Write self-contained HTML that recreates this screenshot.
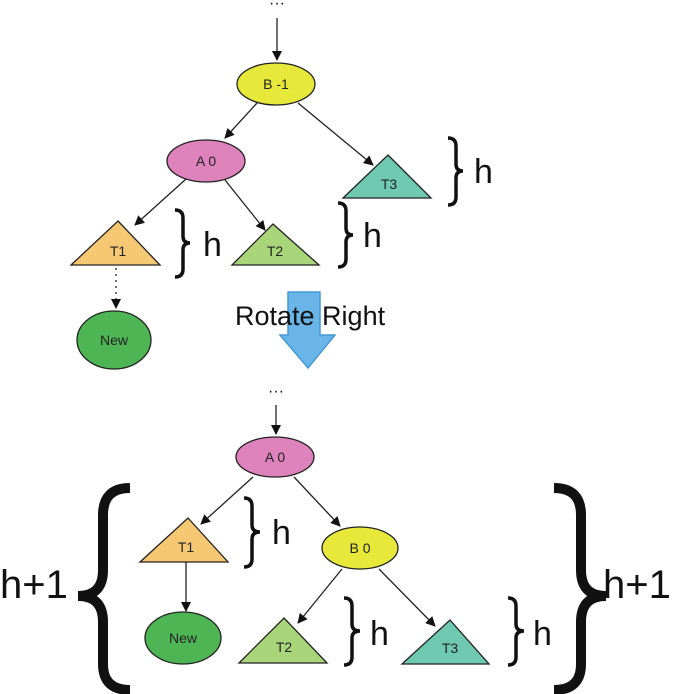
<!DOCTYPE html>
<html><head><meta charset="utf-8"><style>body{margin:0;background:#fff}svg{display:block}</style></head>
<body>
<svg width="685" height="694" viewBox="0 0 685 694" xmlns="http://www.w3.org/2000/svg" font-family="Liberation Sans, sans-serif">
<defs>
<marker id="ah" markerWidth="10" markerHeight="10" refX="9" refY="5" orient="auto" markerUnits="userSpaceOnUse">
<path d="M0,0 L10,5 L0,10 z" fill="#111"/></marker>
</defs>
<g stroke="#222" stroke-width="1.3" fill="none">
<!-- top tree -->
<line x1="277" y1="18" x2="277" y2="60" marker-end="url(#ah)"/>
<line x1="257" y1="103" x2="225" y2="138" marker-end="url(#ah)"/>
<line x1="298" y1="103" x2="373" y2="165" marker-end="url(#ah)"/>
<line x1="186" y1="179" x2="135" y2="225" marker-end="url(#ah)"/>
<line x1="225" y1="180" x2="265" y2="230" marker-end="url(#ah)"/>
<line x1="116" y1="268" x2="116" y2="308" stroke-dasharray="2,4" marker-end="url(#ah)"/>
<!-- bottom tree -->
<line x1="276" y1="405" x2="276" y2="434" marker-end="url(#ah)"/>
<line x1="253" y1="477" x2="201" y2="524" marker-end="url(#ah)"/>
<line x1="294" y1="477" x2="340" y2="526" marker-end="url(#ah)"/>
<line x1="186" y1="562" x2="186" y2="611" marker-end="url(#ah)"/>
<line x1="342" y1="569" x2="298" y2="623" marker-end="url(#ah)"/>
<line x1="379" y1="569" x2="435" y2="626" marker-end="url(#ah)"/>
</g>
<g fill="#111" font-size="16" text-anchor="middle">
<text x="277" y="8">···</text>
<text x="276" y="396">···</text>
</g>
<g stroke="#222" stroke-width="1.3">
<ellipse cx="276" cy="84" rx="39" ry="21" fill="#e6e83a"/>
<ellipse cx="206" cy="161" rx="39" ry="21" fill="#de82bb"/>
<polygon points="388,155 431,198 343,198" fill="#6ec9b0"/>
<polygon points="118,221 160,265 71,265" fill="#f7c873"/>
<polygon points="273,224 319,265 232,265" fill="#a9d57a"/>
<ellipse cx="114" cy="340" rx="37" ry="29" fill="#4db554"/>
<ellipse cx="275" cy="457" rx="39" ry="20" fill="#de82bb"/>
<polygon points="188,518 228,562 140,562" fill="#f7c873"/>
<ellipse cx="360" cy="548" rx="38" ry="21" fill="#e6e83a"/>
<ellipse cx="183" cy="638" rx="38" ry="26" fill="#4db554"/>
<polygon points="284,618 327,663 239,663" fill="#a9d57a"/>
<polygon points="450,620 489,664 402,664" fill="#6ec9b0"/>
</g>
<g fill="#222" font-size="14" text-anchor="middle">
<text x="276" y="89">B -1</text>
<text x="206" y="166">A  0</text>
<text x="389" y="189">T3</text>
<text x="118" y="256">T1</text>
<text x="275" y="256">T2</text>
<text x="114" y="345">New</text>
<text x="275" y="462">A  0</text>
<text x="186" y="552">T1</text>
<text x="360" y="553">B  0</text>
<text x="183" y="643">New</text>
<text x="284" y="652">T2</text>
<text x="450" y="653">T3</text>
</g>
<!-- blue arrow -->
<polygon points="288,292 320,292 320,335 335,335 308,368 280,335 288,335" fill="#5aaee6" stroke="#2f8fd0" stroke-width="1.5" opacity="0.9"/>
<text x="235" y="325" font-size="27" fill="#111">Rotate Right</text>
<!-- small braces -->
<g stroke="#111" stroke-width="3.5" fill="none">
<path d="M175,210 Q183,210 183,218 L183,236 Q183,243 190,243 Q183,243 183,250 L183,269 Q183,277 175,277"/>
<path d="M338,203 Q346,203 346,211 L346,228 Q346,235 353,235 Q346,235 346,242 L346,259 Q346,267 338,267"/>
<path d="M448,138 Q456,138 456,146 L456,164 Q456,171 463,171 Q456,171 456,178 L456,197 Q456,205 448,205"/>
<path d="M244,498 Q252,498 252,506 L252,525 Q252,532 260,532 Q252,532 252,539 L252,559 Q252,567 244,567"/>
<path d="M344,598 Q352,598 352,606 L352,624 Q352,631 360,631 Q352,631 352,638 L352,657 Q352,665 344,665"/>
<path d="M508,598 Q516,598 516,606 L516,624 Q516,631 524,631 Q516,631 516,638 L516,657 Q516,665 508,665"/>
</g>
<g font-size="34" fill="#111">
<text x="203" y="256">h</text>
<text x="363" y="247">h</text>
<text x="474" y="183">h</text>
<text x="272" y="544">h</text>
<text x="370" y="645">h</text>
<text x="533" y="645">h</text>
</g>
<!-- big braces -->
<g stroke="#111" stroke-width="10" fill="none">
<path d="M130,488 Q103,488 103,515 L103,570 Q103,596 78,596 Q103,596 103,622 L103,664 Q103,690 130,690"/>
<path d="M554,488 Q581,488 581,515 L581,570 Q581,596 606,596 Q581,596 581,622 L581,664 Q581,690 554,690"/>
</g>
<g font-size="40" fill="#111">
<text x="0" y="598">h+1</text>
<text x="603" y="598">h+1</text>
</g>
</svg>
</body></html>
